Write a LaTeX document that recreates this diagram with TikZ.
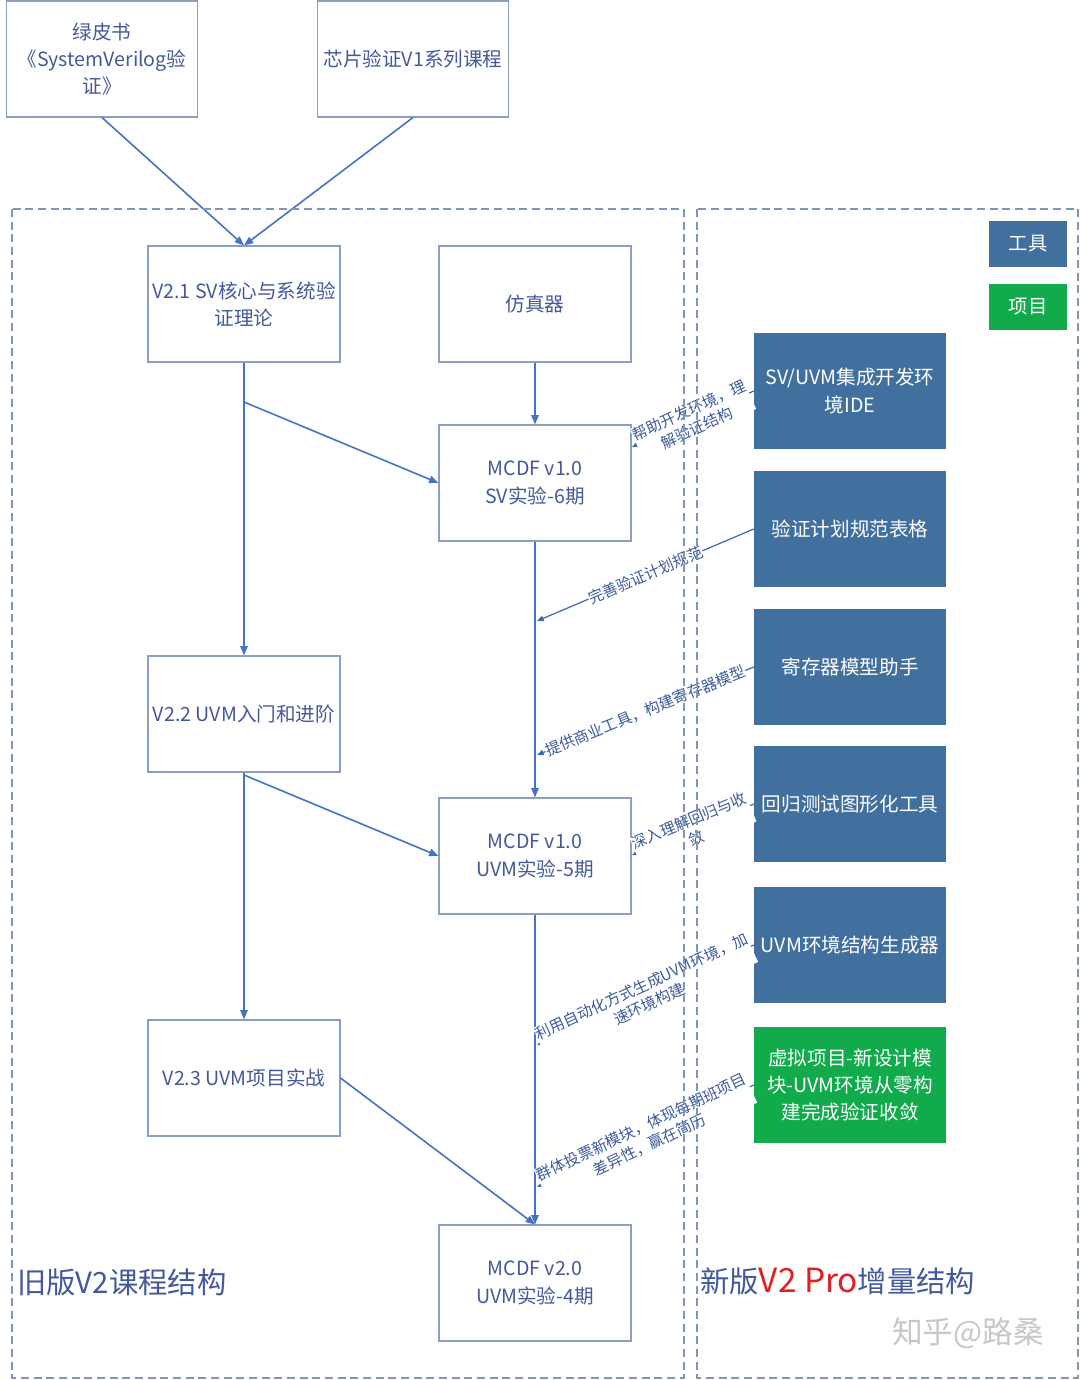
\documentclass[tikz,border=0pt]{standalone}
\usepackage{fontspec}
\setmainfont{Noto Sans CJK SC}
\usetikzlibrary{arrows.meta,calc}
\definecolor{tblue}{HTML}{44599B}
\definecolor{bordc}{HTML}{8C9FC0}
\definecolor{arrc}{HTML}{4472C4}
\definecolor{dashc}{HTML}{7F95BC}
\definecolor{toolc}{HTML}{41709F}
\definecolor{projc}{HTML}{11AB4C}
\definecolor{lblc}{HTML}{3D5A9C}
\definecolor{redc}{HTML}{E02020}
\tikzset{
  wbox/.style={draw=bordc, line width=0.8pt, fill=white, minimum width=144pt, minimum height=87pt,
    align=center, text=tblue, font=\fontsize{14.7}{20.5}\selectfont, inner sep=1pt},
  tbox/.style={fill=toolc, minimum width=144pt, minimum height=87pt, align=center, text=white,
    font=\fontsize{14.7}{20.5}\selectfont, inner sep=1pt},
  pbox/.style={tbox, fill=projc},
  legendtool/.style={fill=toolc, minimum width=58pt, minimum height=35pt, text=white,
    font=\fontsize{14.5}{16}\selectfont, inner sep=1pt},
  legendproj/.style={legendtool, fill=projc},
  region/.style={draw=dashc, line width=1pt, dash pattern=on 6pt off 3.5pt},
  arr/.style={draw=arrc, line width=1.2pt, -{Triangle[length=7pt,width=5.5pt]}},
  thin arr/.style={draw=arrc!90!black, line width=0.9pt, -{Triangle[length=5pt,width=4pt]}},
  lbl/.style={fill=white, text=lblc, align=center, inner sep=0.3pt, font=\fontsize{11.5}{14.5}\selectfont, sloped},
  title/.style={anchor=west, text=tblue, font=\fontsize{22}{26}\selectfont, inner sep=0pt},
}
\begin{document}
\begin{tikzpicture}[x=0.75pt,y=-0.75pt]
\useasboundingbox (0,0) rectangle (1080,1380);
% top boxes
\node[wbox, minimum width=143pt] (gb) at (102,59) {绿皮书\\《SystemVerilog验\\证》};
\node[wbox, minimum width=143pt] (v1) at (413,59) {芯片验证V1系列课程};
% left column
\node[wbox] (v21) at (244,304) {V2.1 SV核心与系统验\\证理论};
\node[wbox] (v22) at (244,714) {V2.2 UVM入门和进阶};
\node[wbox] (v23) at (244,1078) {V2.3 UVM项目实战};
% middle column
\node[wbox] (sim) at (535,304) {仿真器};
\node[wbox] (m1) at (535,483) {MCDF v1.0\\SV实验-6期};
\node[wbox] (m2) at (535,856) {MCDF v1.0\\UVM实验-5期};
\node[wbox] (m3) at (535,1283) {MCDF v2.0\\UVM实验-4期};
% right column
\node[tbox] (ide) at (850,391) {SV/UVM集成开发环\\境IDE};
\node[tbox] (plan) at (850,529) {验证计划规范表格};
\node[tbox] (reg) at (850,667) {寄存器模型助手};
\node[tbox] (regr) at (850,804) {回归测试图形化工具};
\node[tbox] (gen) at (850,945) {UVM环境结构生成器};
\node[pbox] (vp) at (850,1085) {虚拟项目-新设计模\\块-UVM环境从零构\\建完成验证收敛};
% legend
\node[legendtool] (lt) at (1028,244) {工具};
\node[legendproj] (lp) at (1028,307) {项目};
% main arrows
\draw[arr] (gb.south) -- (v21.north);
\draw[arr] (v1.south) -- (v21.north);
\draw[arr] (v21.south) -- (v22.north);
\coordinate (b1) at (244,402);
\draw[arr] (b1) -- (m1.west);
\draw[arr] (sim.south) -- (m1.north);
\draw[arr] (m1.south) -- (m2.north);
\draw[arr] (v22.south) -- (v23.north);
\coordinate (b2) at (244,775);
\draw[arr] (b2) -- (m2.west);
\draw[arr] (m2.south) -- (m3.north);
\draw[arr] (v23.east) -- (m3.north);
% targets of the tool arrows
\coordinate (t1) at (632,447);
\coordinate (t2) at (537,621);
\coordinate (t3) at (537,755);
\coordinate (t4) at (632,855);
\coordinate (t5) at (537,1045);
\coordinate (t6) at (537,1187);
\draw[thin arr] (ide.west) -- node[lbl]{帮助开发环境，理\\解验证结构} (t1);
\draw[thin arr] (plan.west) -- node[lbl]{完善验证计划规范} (t2);
\draw[thin arr] (reg.west) -- node[lbl]{提供商业工具，构建寄存器模型} (t3);
\draw[thin arr] (regr.west) -- node[lbl]{深入理解回归与收\\敛} (t4);
\draw[thin arr] (gen.west) -- node[lbl]{利用自动化方式生成UVM环境，加\\速环境构建} (t5);
\draw[thin arr] (vp.west) -- node[lbl]{群体投票新模块，体现每期班项目\\差异性，赢在简历} (t6);
% regions (drawn over the labels, as in the reference)
\draw[region] (12,209) rectangle (684,1378);
\draw[region] (697,209) rectangle (1078,1378);
% titles
\node[title] (tl) at (17,1282) {旧版V2课程结构};
\node[title] (tr) at (700,1281) {新版{\color{redc}\fontsize{25}{26}\selectfont V2 Pro}增量结构};
\node[text=black!22, font=\fontsize{23}{26}\selectfont, inner sep=0pt] (wm) at (968,1333) {知乎@路桑};
\end{tikzpicture}
\end{document}
